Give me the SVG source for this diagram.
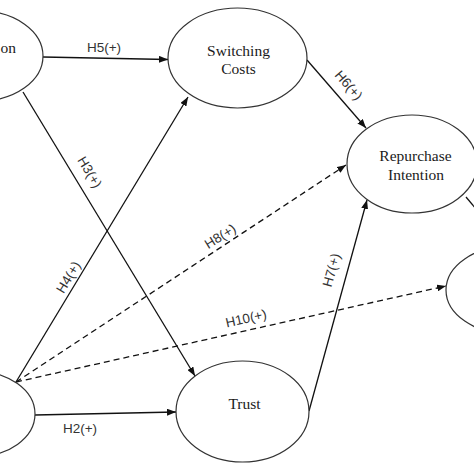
<svg xmlns="http://www.w3.org/2000/svg" width="474" height="474" viewBox="0 0 474 474">
<defs>
<marker id="ah" markerWidth="9" markerHeight="7" refX="9" refY="3.5" orient="auto" markerUnits="userSpaceOnUse">
<path d="M0,0 L9,3.5 L0,7 Z" fill="#111"/>
</marker>
</defs>
<style>
.node ellipse{fill:#fff;stroke:#333;stroke-width:1.2}
.nl{font-family:"Liberation Serif","Times New Roman",serif;font-size:15.5px;fill:#1a1a1a;text-anchor:middle}
.el{font-family:"Liberation Sans",Arial,sans-serif;font-size:13.5px;fill:#333;text-anchor:middle}
.c{stroke:#111;stroke-width:1.3;fill:none}
.d{stroke-dasharray:6 4}
</style>
<rect width="474" height="474" fill="#fff"/>
<g id="connectors">
<line class="c" x1="43" y1="57" x2="168" y2="59.5" marker-end="url(#ah)"/>
<line class="c" x1="23" y1="92" x2="195" y2="376" marker-end="url(#ah)"/>
<line class="c" x1="16" y1="382" x2="188" y2="97" marker-end="url(#ah)"/>
<line class="c d" x1="16" y1="382" x2="346" y2="165" marker-end="url(#ah)"/>
<line class="c d" x1="16" y1="382" x2="446" y2="286" marker-end="url(#ah)"/>
<line class="c" x1="35" y1="415" x2="176" y2="412" marker-end="url(#ah)"/>
<line class="c" x1="307" y1="60" x2="366" y2="128" marker-end="url(#ah)"/>
<line class="c" x1="309" y1="411" x2="367" y2="200" marker-end="url(#ah)"/>
<line class="c" x1="466" y1="197" x2="476" y2="209"/>
<text class="el" x="104" y="52">H5(+)</text>
<text class="el" transform="translate(90,172) rotate(58.8)" y="5">H3(+)</text>
<text class="el" transform="translate(68,277) rotate(-58.8)" y="5">H4(+)</text>
<text class="el" transform="translate(220,236) rotate(-32)" y="5">H8(+)</text>
<text class="el" transform="translate(246,318) rotate(-12.6)" y="5">H10(+)</text>
<text class="el" x="80" y="433">H2(+)</text>
<text class="el" transform="translate(349,85) rotate(49)" y="5">H6(+)</text>
<text class="el" transform="translate(331,270) rotate(-74.6)" y="5">H7(+)</text>
</g>
<g id="node-top-left" class="node">
<ellipse cx="-20" cy="56" rx="63" ry="45"/>
<text class="nl" x="16" y="53" style="text-anchor:end">on</text>
</g>
<g id="node-switching-costs" class="node">
<ellipse cx="237.5" cy="58" rx="69.5" ry="50"/>
<text class="nl" x="238.5" y="56">Switching</text>
<text class="nl" x="238.5" y="74">Costs</text>
</g>
<g id="node-repurchase-intention" class="node">
<ellipse cx="412" cy="164" rx="65" ry="49"/>
<text class="nl" x="415.5" y="161">Repurchase</text>
<text class="nl" x="416" y="180">Intention</text>
</g>
<g id="node-right" class="node">
<ellipse cx="510" cy="290" rx="64" ry="44"/>
</g>
<g id="node-trust" class="node">
<ellipse cx="242.5" cy="411.5" rx="66.5" ry="50.5"/>
<text class="nl" x="244.5" y="409">Trust</text>
</g>
<g id="node-bottom-left" class="node">
<ellipse cx="-25" cy="414" rx="60" ry="43"/>
</g>
</svg>
